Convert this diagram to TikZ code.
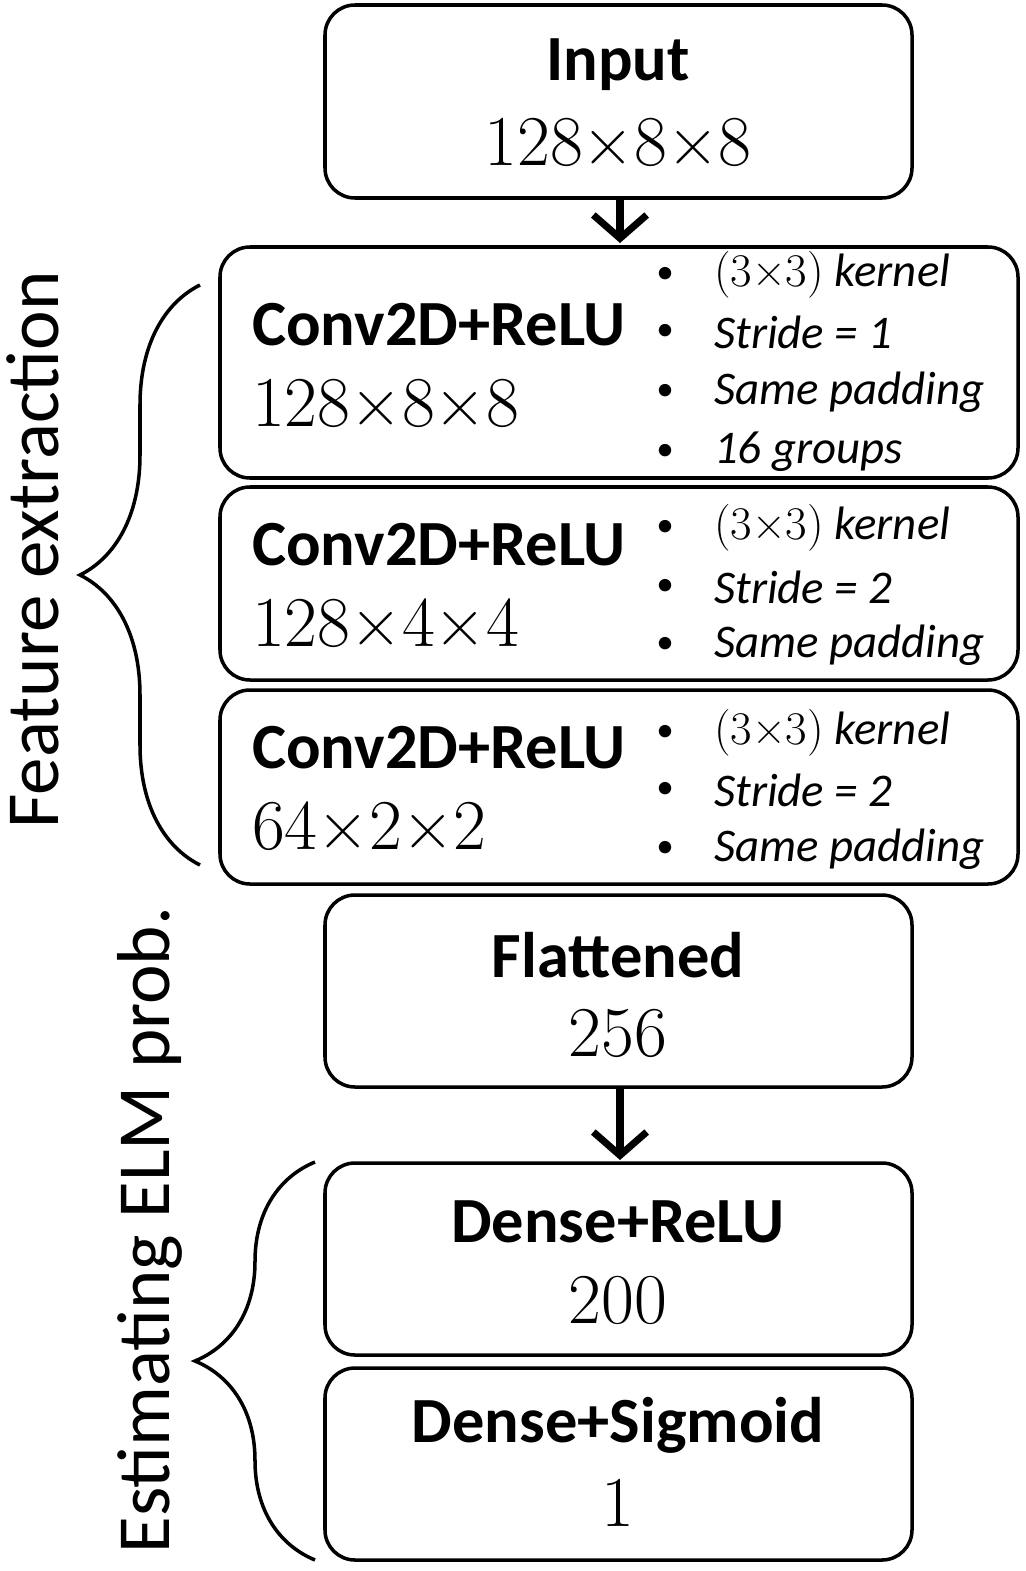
\documentclass[tikz,border=0pt]{standalone}
\usepackage{fontspec}
\setmainfont{Carlito}
\newfontfamily\numf{Latin Modern Roman}
\usetikzlibrary{arrows.meta,decorations.pathreplacing}
\begin{document}
\begin{tikzpicture}[x=0.03cm,y=-0.03cm,
 box/.style={draw,line width=3pt,rounded corners=0.9cm},
 arr/.style={line width=6pt,-{Straight Barb[length=0.7cm,width=1.6cm,line width=6pt]}},
 ttl/.style={font=\fontsize{55}{60}\selectfont\bfseries},
 num/.style={font=\fontsize{61}{66}\selectfont\numf},
 it/.style={anchor=west,font=\fontsize{40}{48}\selectfont\itshape},
 bul/.style={font=\fontsize{30}{36}\selectfont},
 brc/.style={line width=3pt,decorate,decoration={brace,amplitude=3.6cm}},
 side/.style={font=\fontsize{64}{70}\selectfont,rotate=90}]
\useasboundingbox (0,0) rectangle (1025,1571);
\draw[box] (325,5) rectangle (912,198);
\node[ttl] (in) at (618,65) {Input};
\node[num] (inn) at (618,142) {128×8×8};
\draw[box] (220,247) rectangle (1018,478);
\node[ttl,anchor=west] (c1) at (248,325) {Conv2D+ReLU};
\node[num,anchor=west] (c1n) at (248,403) {128×8×8};
\draw[box] (220,487) rectangle (1018,680);
\node[ttl,anchor=west] (c2) at (248,545) {Conv2D+ReLU};
\node[num,anchor=west] (c2n) at (248,623) {128×4×4};
\draw[box] (220,690) rectangle (1018,884);
\node[ttl,anchor=west] (c3) at (248,748) {Conv2D+ReLU};
\node[num,anchor=west] (c3n) at (248,826) {64×2×2};
\foreach \y/\t [count=\i] in {275/{{\numf\upshape(3×3)} kernel},332/{Stride = 1},392/{Same padding},452/{16 groups},
 528/{{\numf\upshape(3×3)} kernel},587/{Stride = 2},645/{Same padding},
 733/{{\numf\upshape(3×3)} kernel},790/{Stride = 2},849/{Same padding}}{
 \node[bul] (b\i) at (665,\y) {•};
 \node[it] (t\i) at (710,\y) {\t};}
\draw[box] (325,895) rectangle (912,1087);
\node[ttl] (fl) at (618,955) {Flattened};
\node[num] (fln) at (618,1033) {256};
\draw[box] (325,1163) rectangle (912,1355);
\node[ttl] (d1) at (618,1222) {Dense+ReLU};
\node[num] (d1n) at (618,1300) {200};
\draw[box] (325,1368) rectangle (912,1560);
\node[ttl] (d2) at (618,1425) {Dense+Sigmoid};
\node[num] (d2n) at (618,1503) {1};
\coordinate (a1) at (620,198); \coordinate (a2) at (620,243);
\coordinate (a3) at (620,1087); \coordinate (a4) at (620,1160);
\draw[arr] (a1) -- (a2);
\draw[arr] (a3) -- (a4);
\coordinate (br1a) at (200,865); \coordinate (br1b) at (200,285);
\draw[brc] (br1a) -- (br1b);
\coordinate (br2a) at (315,1560); \coordinate (br2b) at (315,1162);
\draw[brc] (br2a) -- (br2b);
\node[side] (fe) at (33,550) {Feature extraction};
\node[side] (el) at (150,1230) {Estimating ELM prob.};
\end{tikzpicture}
\end{document}
